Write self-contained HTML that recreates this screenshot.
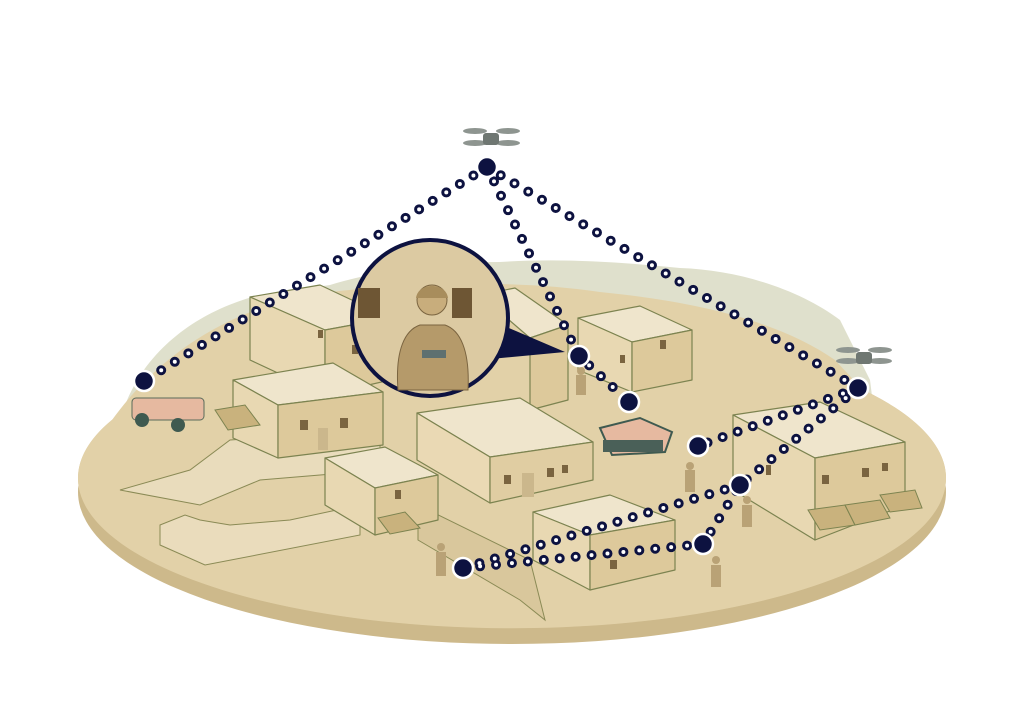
<!DOCTYPE html>
<html><head><meta charset="utf-8"><style>html,body{margin:0;padding:0;background:#fff}svg{display:block}</style></head>
<body>
<svg width="1024" height="713" viewBox="0 0 1024 713" xmlns="http://www.w3.org/2000/svg" font-family="Liberation Sans, sans-serif">
<!-- hills behind -->
<path d="M120,420 C140,350 200,310 260,295 L330,285 C380,270 440,262 500,262 C560,258 620,262 680,268 C740,270 800,290 840,320 L870,380 L880,460 L120,460 Z" fill="#dfe0cc"/>
<!-- disc rim -->
<ellipse cx="512" cy="492" rx="434" ry="152" fill="#cdb98b"/>
<ellipse cx="512" cy="478" rx="434" ry="150" fill="#dccba0"/>
<path d="M112,420 C170,340 250,302 330,292 C420,282 520,280 600,292 C700,302 780,322 835,360 L863,390 A434,150 0 1 1 112,420 Z" fill="#e2d1a8"/>
<path d="M120,490 L190,470 L230,440 L380,430 L380,470 L260,480 L200,505 Z" fill="#e9dcbc" stroke="#8a8a55" stroke-width="1"/>
<path d="M160,525 L185,515 L200,520 L230,525 L290,520 L360,505 L360,535 L205,565 L160,545 Z" fill="#eadcbc" stroke="#8a8a55" stroke-width="1"/>
<path d="M418,505 L530,560 L545,620 L520,600 L418,540 Z" fill="#d9c79c" stroke="#8a8a55" stroke-width="1"/>

<g stroke="#7c8350" stroke-width="1.2" stroke-linejoin="round">
 <polygon points="250,297 320,285 390,318 325,330" fill="#efe5cc"/>
 <polygon points="250,297 325,330 325,395 250,360" fill="#e8d8b2"/>
 <polygon points="325,330 390,318 390,380 325,395" fill="#ddc99b"/>
 <polygon points="480,295 515,288 568,325 530,338" fill="#efe5cc"/>
 <polygon points="530,338 568,325 568,400 530,410" fill="#ddc99b"/>
 <polygon points="578,318 640,306 692,330 632,342" fill="#efe5cc"/>
 <polygon points="578,318 632,342 632,392 578,370" fill="#e8d8b2"/>
 <polygon points="632,342 692,330 692,380 632,392" fill="#ddc99b"/>
 <polygon points="233,380 333,363 383,392 278,405" fill="#efe5cc"/>
 <polygon points="233,380 278,405 278,458 233,438" fill="#e8d8b2"/>
 <polygon points="278,405 383,392 383,445 278,458" fill="#ddc99b"/>
 <polygon points="417,413 520,398 593,442 490,457" fill="#efe5cc"/>
 <polygon points="417,413 490,457 490,503 417,460" fill="#ead9b4"/>
 <polygon points="490,457 593,442 593,480 490,503" fill="#e0cda2"/>
 <polygon points="325,458 385,447 438,475 375,488" fill="#efe5cc"/>
 <polygon points="325,458 375,488 375,535 325,505" fill="#e8d8b2"/>
 <polygon points="375,488 438,475 438,520 375,535" fill="#ddc99b"/>
 <polygon points="733,415 820,402 905,442 815,458" fill="#efe5cc"/>
 <polygon points="733,415 815,458 815,540 733,490" fill="#e8d8b2"/>
 <polygon points="815,458 905,442 905,505 815,540" fill="#ddc99b"/>
 <polygon points="533,512 610,495 675,520 590,535" fill="#efe5cc"/>
 <polygon points="533,512 590,535 590,590 533,560" fill="#e8d8b2"/>
 <polygon points="590,535 675,520 675,570 590,590" fill="#ddc99b"/>
</g>
<g fill="#7a6440">
 <rect x="352" y="345" width="6" height="9"/><rect x="300" y="420" width="8" height="10"/><rect x="340" y="418" width="8" height="10"/><rect x="318" y="428" width="10" height="22" fill="#cbb78c"/>
 <rect x="504" y="475" width="7" height="9"/><rect x="547" y="468" width="7" height="9"/><rect x="562" y="465" width="6" height="8"/><rect x="522" y="473" width="12" height="24" fill="#cbb78c"/>
 <rect x="395" y="490" width="6" height="9"/><rect x="660" y="340" width="6" height="9"/><rect x="620" y="355" width="5" height="8"/>
 <rect x="822" y="475" width="7" height="9"/><rect x="862" y="468" width="7" height="9"/><rect x="882" y="463" width="6" height="8"/><rect x="766" y="465" width="5" height="10"/>
 <rect x="610" y="560" width="7" height="9"/><rect x="318" y="330" width="5" height="8"/>
</g>
<g fill="#c9b27d" stroke="#7c8350" stroke-width="1">
 <polygon points="215,410 245,405 260,425 228,430"/>
 <polygon points="378,518 405,512 420,528 390,534"/>
 <polygon points="808,510 845,505 855,525 820,530"/><polygon points="845,505 880,500 890,518 855,525"/><polygon points="880,495 915,490 922,508 890,512"/>
</g>
<rect x="132" y="398" width="72" height="22" rx="4" fill="#e6b9a0" stroke="#5a6b5a"/>
<circle cx="142" cy="420" r="7" fill="#3f5a50"/><circle cx="178" cy="425" r="7" fill="#3f5a50"/>
<path d="M600,428 L640,418 L672,432 L665,452 L612,455 Z" fill="#e6b9a0" stroke="#3f5a50" stroke-width="2"/>
<rect x="603" y="440" width="60" height="12" fill="#4a6058"/>
<g fill="#b9a276">
 <rect x="576" y="375" width="10" height="20"/><circle cx="581" cy="371" r="4"/>
 <rect x="685" y="470" width="10" height="22"/><circle cx="690" cy="466" r="4"/>
 <rect x="742" y="505" width="10" height="22"/><circle cx="747" cy="500" r="4"/>
 <rect x="711" y="565" width="10" height="22"/><circle cx="716" cy="560" r="4"/>
 <rect x="436" y="552" width="10" height="24"/><circle cx="441" cy="547" r="4"/>
</g>
<g fill="none" stroke-linecap="round">
 <g stroke="#0d1240" stroke-width="10" stroke-dasharray="0 16">
  <path d="M487,167 L144,381 M487,167 L579,356 L629,402 M487,167 L858,388 M858,388 L698,446 M858,388 L740,485 L703,544 M740,485 L463,568 M703,544 L463,568"/>
 </g>
 <g stroke="#ffffff" stroke-width="4" stroke-dasharray="0 16">
  <path d="M487,167 L144,381 M487,167 L579,356 L629,402 M487,167 L858,388 M858,388 L698,446 M858,388 L740,485 L703,544 M740,485 L463,568 M703,544 L463,568"/>
 </g>
</g>
<polygon points="490,320 565,352 480,360" fill="#0d1240"/>
<circle cx="430" cy="318" r="78" fill="#dccaa2" stroke="#0d1240" stroke-width="4"/>
<rect x="358" y="288" width="22" height="30" fill="#6e5634"/><rect x="452" y="288" width="20" height="30" fill="#6e5634"/>
<path d="M398,390 C395,350 405,330 420,325 L445,325 C460,330 470,350 468,390 Z" fill="#b59a6a" stroke="#7a6440"/>
<circle cx="432" cy="300" r="15" fill="#c8ad7c" stroke="#7a6440"/>
<path d="M416,298 C418,282 446,282 448,298 Z" fill="#a88d5c"/>
<rect x="422" y="350" width="24" height="8" fill="#5e7070"/>
<g fill="#8e9590">
 <ellipse cx="475" cy="131" rx="12" ry="3"/><ellipse cx="508" cy="131" rx="12" ry="3"/><ellipse cx="475" cy="143" rx="12" ry="3"/><ellipse cx="508" cy="143" rx="12" ry="3"/><rect x="483" y="133" width="16" height="12" rx="3" fill="#6f7772"/>
 <ellipse cx="848" cy="350" rx="12" ry="3"/><ellipse cx="880" cy="350" rx="12" ry="3"/><ellipse cx="848" cy="361" rx="12" ry="3"/><ellipse cx="880" cy="361" rx="12" ry="3"/><rect x="856" y="352" width="16" height="12" rx="3" fill="#6f7772"/>
</g>
<g fill="#0d1240" stroke="#fff" stroke-width="2.5">
 <circle cx="487" cy="167" r="10"/><circle cx="144" cy="381" r="10"/><circle cx="579" cy="356" r="10"/><circle cx="629" cy="402" r="10"/>
 <circle cx="858" cy="388" r="10"/><circle cx="698" cy="446" r="10"/><circle cx="740" cy="485" r="10"/><circle cx="703" cy="544" r="10"/><circle cx="463" cy="568" r="10"/>
</g>
</svg>
</body></html>
